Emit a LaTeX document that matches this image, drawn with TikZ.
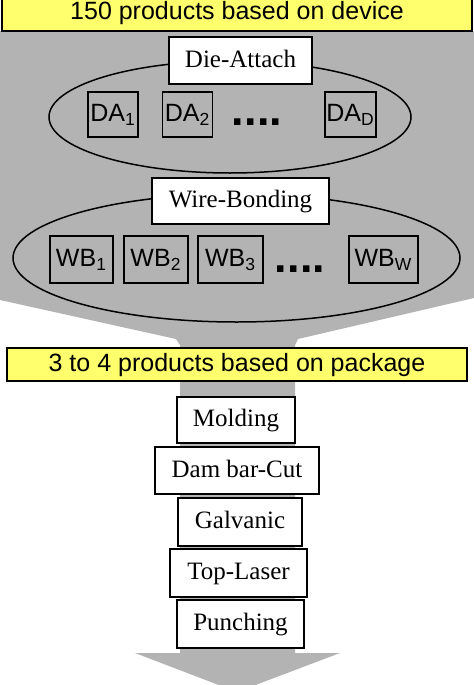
\documentclass[tikz,border=0pt]{standalone}
\usepackage{fontspec}
\setmainfont{Liberation Serif}
\setsansfont{Liberation Sans}
\usetikzlibrary{shapes.geometric}
\definecolor{flowgray}{RGB}{179,179,179}
\definecolor{banneryellow}{RGB}{255,255,110}

\begin{document}
\begin{tikzpicture}[
        x=0.5pt,y=-0.5pt,
        mybanner/.style={rectangle,draw,line width=0.9pt,fill=banneryellow,font=\sffamily\fontsize{12.5}{15}\selectfont,text height=0.66em,text depth=0pt},
        mystage/.style={rectangle,draw,line width=0.9pt,fill=white,inner sep=0pt,font=\rmfamily\fontsize{12.5}{15}\selectfont,text height=0.66em,text depth=0pt},
        mysub/.style={rectangle,draw,line width=0.8pt,inner sep=0pt,font=\sffamily\fontsize{12.5}{15}\selectfont,text height=0.7em,text depth=0pt},
        mygroup/.style={ellipse,draw,line width=0.75pt,inner sep=0pt},
        mydots/.style={anchor=base,inner sep=0pt,font=\sffamily\bfseries\fontsize{22.5}{25}\selectfont},
    ]
    \useasboundingbox (0,0) rectangle (474,685);
    \fill[flowgray] (0,31) -- (474,31) -- (474,298) -- (298,339) -- (295,345) -- (295,653)
        -- (340,653) -- (237,692) -- (135,653) -- (180,653) -- (180,345) -- (176,339) -- (0,300) -- cycle;
    \node[mybanner,minimum width=235pt,minimum height=18pt] (device) at (237,13) {150 products based on device};
    \node[mygroup,minimum width=181pt,minimum height=56pt] (DAgroup) at (230,117) {};
    \node[mystage,minimum width=71.5pt,minimum height=23.5pt] (DieAttach) at (240.5,60.5) {Die-Attach};
    \node[mysub,minimum width=25pt,minimum height=22.5pt] (DA1) at (113,114.5) {DA\textsubscript{1}};
    \node[mysub,minimum width=25pt,minimum height=22.5pt] (DA2) at (187.5,114.5) {DA\textsubscript{2}};
    \node[mydots] (DAdots) at (257,125) {....};
    \node[mysub,minimum width=25.5pt,minimum height=22.5pt] (DAD) at (350.5,114.5) {DA\textsubscript{D}};
    \node[mygroup,minimum width=223.5pt,minimum height=64pt] (WBgroup) at (236.5,258) {};
    \node[mystage,minimum width=88.5pt,minimum height=23pt] (WireBonding) at (240.5,201) {Wire-Bonding};
    \node[mysub,minimum width=31.5pt,minimum height=23.5pt] (WB1) at (81.5,259.5) {WB\textsubscript{1}};
    \node[mysub,minimum width=32pt,minimum height=23.5pt] (WB2) at (156,259.5) {WB\textsubscript{2}};
    \node[mysub,minimum width=32.5pt,minimum height=23.5pt] (WB3) at (230.5,259.5) {WB\textsubscript{3}};
    \node[mydots] (WBdots) at (300,272) {....};
    \node[mysub,minimum width=34.5pt,minimum height=23.5pt] (WBW) at (383.5,259.5) {WB\textsubscript{W}};
    \node[mybanner,minimum width=230pt,minimum height=16.5pt] (package) at (237,364.5) {3 to 4 products based on package};
    \node[mystage,minimum width=59pt,minimum height=23pt] (Molding) at (236,420) {Molding};
    \node[mystage,minimum width=82pt,minimum height=23.5pt] (DamBar) at (237,470.5) {Dam bar-Cut};
    \node[mystage,minimum width=62pt,minimum height=24pt] (Galvanic) at (240,522) {Galvanic};
    \node[mystage,minimum width=68.5pt,minimum height=24pt] (TopLaser) at (238.5,573) {Top-Laser};
    \node[mystage,minimum width=63.5pt,minimum height=24pt] (Punching) at (240.5,624) {Punching};
\end{tikzpicture}
\end{document}
